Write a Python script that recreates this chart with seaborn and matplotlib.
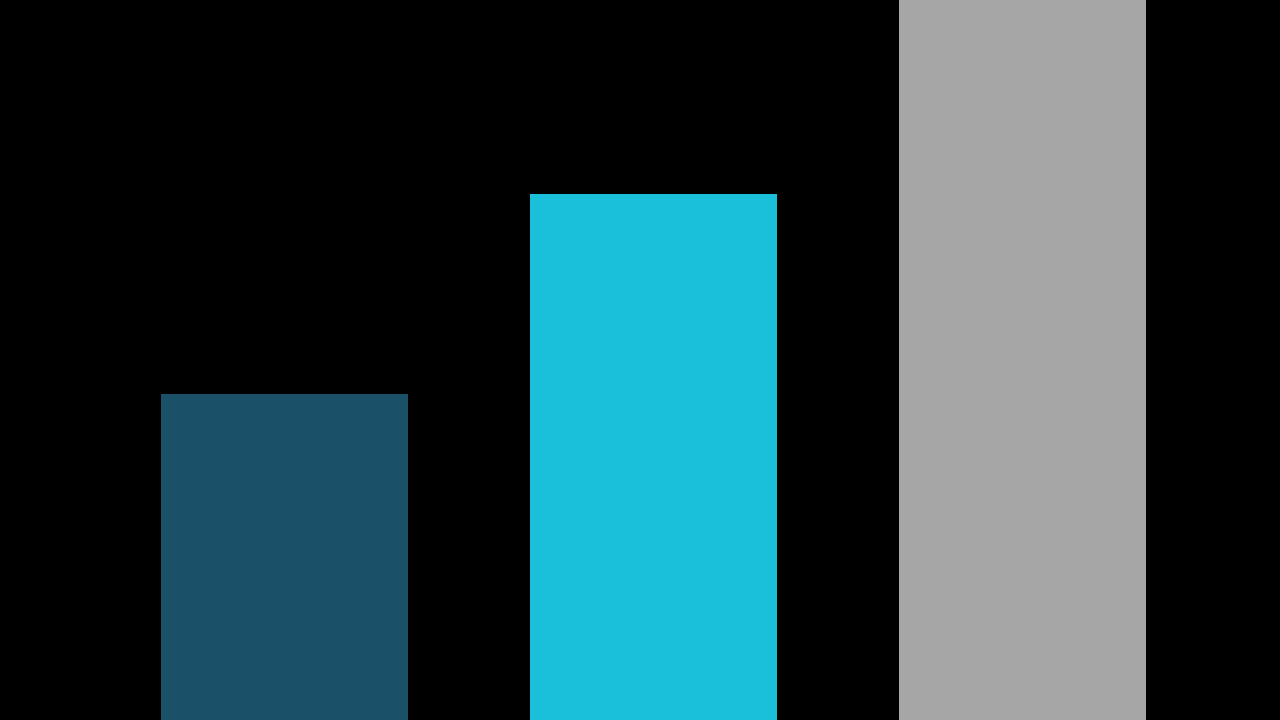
import matplotlib
matplotlib.use("Agg")
import matplotlib.pyplot as plt
import pandas as pd
import seaborn as sns

# three bars, no labels in the picture
categories = ["A", "B", "C"]
values = [3.26, 5.26, 7.6]
colors = ["#1a5068", "#1abfd9", "#a6a6a6"]

df = pd.DataFrame({"cat": categories, "val": values})

sns.set_style("dark")
fig = plt.figure(figsize=(12.8, 7.2), dpi=100, facecolor="black")
ax = fig.add_axes([0, 0, 1, 1])
ax.set_facecolor("black")

sns.barplot(data=df, x="cat", y="val", hue="cat", palette=colors,
            width=0.667, legend=False, saturation=1, linewidth=0, ax=ax)

ax.set_xlim(-0.771, 2.698)
ax.set_ylim(0, 7.2)
ax.axis("off")

fig.savefig("out.png", dpi=100, facecolor="black")
plt.close(fig)
